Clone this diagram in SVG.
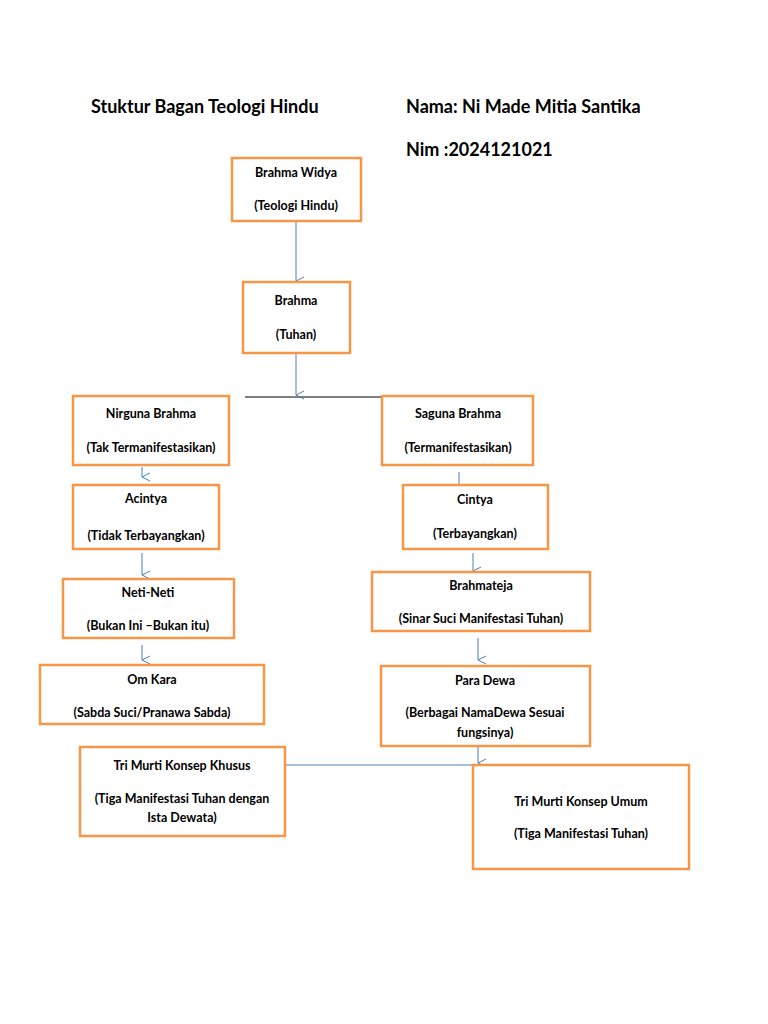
<svg xmlns="http://www.w3.org/2000/svg" width="768" height="1024" viewBox="0 0 768 1024">
<style>
.b{fill:#fff;stroke:#f79646;stroke-width:2.5}
text{font-family:Lato,"Liberation Sans",sans-serif;font-weight:bold;font-size:12.5px;fill:#000;text-anchor:middle}
.h{font-size:18px;text-anchor:start}
.c{stroke:#4a7ebb;stroke-width:1;fill:none}
</style>
<defs><marker id="a" markerWidth="10" markerHeight="10" refX="5" refY="9" orient="auto" markerUnits="userSpaceOnUse" viewBox="0 0 10 10"><path d="M1,1 L5,9 L9,1" fill="none" stroke="#4a7ebb" stroke-width="1"/></marker></defs>
<rect width="768" height="1024" fill="#fff"/>
<text class="h" x="91" y="113">Stuktur Bagan Teologi Hindu</text>
<text class="h" x="406" y="113">Nama: Ni Made Mitia Santika</text>
<text class="h" x="406" y="156">Nim    :2024121021</text>
<g id="connectors">
<line x1="245" y1="397" x2="382" y2="397" stroke="#000" stroke-width="1"/>
<line class="c" x1="296" y1="222" x2="296" y2="281" marker-end="url(#a)"/>
<line class="c" x1="296" y1="354" x2="296" y2="395" marker-end="url(#a)"/>
<line class="c" x1="142" y1="467" x2="142" y2="477" marker-end="url(#a)"/>
<line class="c" x1="459" y1="472" x2="459" y2="484"/>
<line class="c" x1="142" y1="553" x2="142" y2="575" marker-end="url(#a)"/>
<line class="c" x1="473" y1="553" x2="473" y2="571" marker-end="url(#a)"/>
<line class="c" x1="142" y1="645" x2="142" y2="660" marker-end="url(#a)"/>
<line class="c" x1="478" y1="638" x2="478" y2="660" marker-end="url(#a)"/>
<line class="c" x1="478" y1="747" x2="478" y2="763" marker-end="url(#a)"/>
<line class="c" x1="286" y1="765" x2="473" y2="765" stroke-width="1.5"/>
</g>
<g id="n1"><rect class="b" x="232" y="158" width="129" height="63"/><text x="296" y="177">Brahma Widya</text><text x="296" y="210">(Teologi Hindu)</text></g>
<g id="n2"><rect class="b" x="243" y="282" width="107" height="71"/><text x="296" y="305">Brahma</text><text x="296" y="339">(Tuhan)</text></g>
<g id="n3"><rect class="b" x="73" y="396" width="156" height="69"/><text x="151" y="418">Nirguna Brahma</text><text x="151" y="452">(Tak Termanifestasikan)</text></g>
<g id="n4"><rect class="b" x="382" y="396" width="151" height="69"/><text x="458" y="418">Saguna Brahma</text><text x="458" y="452">(Termanifestasikan)</text></g>
<g id="n5"><rect class="b" x="73" y="485" width="146" height="64"/><text x="146" y="503">Acintya</text><text x="146" y="540">(Tidak Terbayangkan)</text></g>
<g id="n6"><rect class="b" x="403" y="485" width="145" height="64"/><text x="475" y="504">Cintya</text><text x="475" y="538">(Terbayangkan)</text></g>
<g id="n7"><rect class="b" x="63" y="579" width="171" height="59"/><text x="148" y="597">Neti-Neti</text><text x="148" y="630">(Bukan Ini –Bukan itu)</text></g>
<g id="n8"><rect class="b" x="372" y="572" width="218" height="59"/><text x="481" y="590">Brahmateja</text><text x="481" y="623">(Sinar Suci Manifestasi Tuhan)</text></g>
<g id="n9"><rect class="b" x="40" y="665" width="224" height="59"/><text x="152" y="684">Om Kara</text><text x="152" y="717">(Sabda Suci/Pranawa Sabda)</text></g>
<g id="n10"><rect class="b" x="381" y="666" width="209" height="80"/><text x="485" y="685">Para Dewa</text><text x="485" y="717">(Berbagai NamaDewa Sesuai</text><text x="485" y="737">fungsinya)</text></g>
<g id="n11"><rect class="b" x="80" y="747" width="205" height="89"/><text x="182" y="770">Tri Murti Konsep Khusus</text><text x="182" y="803">(Tiga Manifestasi Tuhan dengan</text><text x="182" y="822">Ista Dewata)</text></g>
<g id="n12"><rect class="b" x="473" y="765" width="216" height="104"/><text x="581" y="806">Tri Murti Konsep Umum</text><text x="581" y="838">(Tiga Manifestasi Tuhan)</text></g>
</svg>
